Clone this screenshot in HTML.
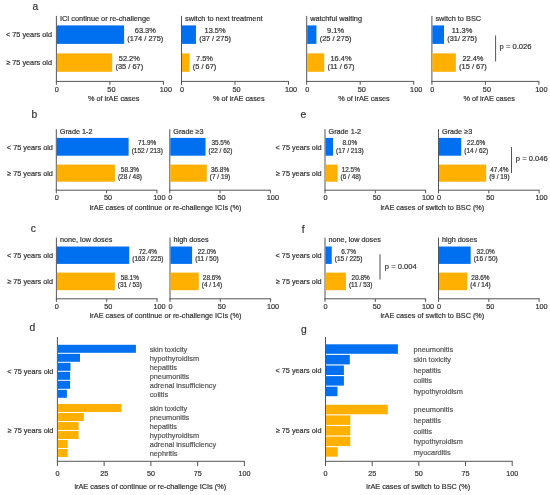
<!DOCTYPE html>
<html><head><meta charset="utf-8"><style>
html,body{margin:0;padding:0;background:#fff;}
svg{display:block;font-family:"Liberation Sans",sans-serif;will-change:transform;filter:blur(0.3px);}

</style></head><body>
<svg width="550" height="495" viewBox="0 0 550 495">
<rect width="550" height="495" fill="#fff"/>
<text x="32.60" y="9.80" font-size="10.3" text-anchor="start" fill="#333333" stroke="#333333" stroke-width="0.2">a</text>
<text x="31.60" y="117.50" font-size="10.3" text-anchor="start" fill="#333333" stroke="#333333" stroke-width="0.2">b</text>
<text x="30.80" y="231.60" font-size="10.3" text-anchor="start" fill="#333333" stroke="#333333" stroke-width="0.2">c</text>
<text x="29.60" y="331.00" font-size="10.3" text-anchor="start" fill="#333333" stroke="#333333" stroke-width="0.2">d</text>
<text x="300.40" y="117.60" font-size="10.3" text-anchor="start" fill="#333333" stroke="#333333" stroke-width="0.2">e</text>
<text x="301.70" y="232.50" font-size="10.3" text-anchor="start" fill="#333333" stroke="#333333" stroke-width="0.2">f</text>
<text x="301.00" y="332.60" font-size="10.3" text-anchor="start" fill="#333333" stroke="#333333" stroke-width="0.2">g</text>
<line x1="56.40" y1="15.90" x2="56.40" y2="81.90" stroke="#555555" stroke-width="1"/>
<line x1="55.90" y1="81.40" x2="163.90" y2="81.40" stroke="#555555" stroke-width="1"/>
<line x1="56.40" y1="81.40" x2="56.40" y2="84.80" stroke="#555555" stroke-width="1"/>
<text x="56.90" y="91.60" font-size="7.3" text-anchor="middle" fill="#333333" stroke="#333333" stroke-width="0.2">0</text>
<line x1="109.90" y1="81.40" x2="109.90" y2="84.80" stroke="#555555" stroke-width="1"/>
<text x="111.40" y="91.60" font-size="7.3" text-anchor="middle" fill="#333333" stroke="#333333" stroke-width="0.2">50</text>
<line x1="163.40" y1="81.40" x2="163.40" y2="84.80" stroke="#555555" stroke-width="1"/>
<text x="165.90" y="91.60" font-size="7.3" text-anchor="middle" fill="#333333" stroke="#333333" stroke-width="0.2">100</text>
<text x="59.90" y="20.50" font-size="7.35" text-anchor="start" fill="#333333" stroke="#333333" stroke-width="0.2">ICI continue or re-challenge</text>
<rect x="56.90" y="25.40" width="67.23" height="18.50" fill="#0070f0"/>
<text x="145.34" y="33.15" font-size="7.45" text-anchor="middle" fill="#333333" stroke="#333333" stroke-width="0.2">63.3%</text>
<text x="145.34" y="41.35" font-size="7.45" text-anchor="middle" fill="#333333" stroke="#333333" stroke-width="0.2">(174 / 275)</text>
<rect x="56.90" y="53.40" width="55.35" height="18.40" fill="#ffb000"/>
<text x="129.32" y="61.10" font-size="7.45" text-anchor="middle" fill="#333333" stroke="#333333" stroke-width="0.2">52.2%</text>
<text x="129.32" y="69.30" font-size="7.45" text-anchor="middle" fill="#333333" stroke="#333333" stroke-width="0.2">(35 / 67)</text>
<text x="113.70" y="101.00" font-size="7.3" text-anchor="middle" fill="#333333" stroke="#333333" stroke-width="0.2">% of irAE cases</text>
<line x1="181.50" y1="15.90" x2="181.50" y2="81.90" stroke="#555555" stroke-width="1"/>
<line x1="181.00" y1="81.40" x2="289.00" y2="81.40" stroke="#555555" stroke-width="1"/>
<line x1="181.50" y1="81.40" x2="181.50" y2="84.80" stroke="#555555" stroke-width="1"/>
<text x="182.00" y="91.60" font-size="7.3" text-anchor="middle" fill="#333333" stroke="#333333" stroke-width="0.2">0</text>
<line x1="235.00" y1="81.40" x2="235.00" y2="84.80" stroke="#555555" stroke-width="1"/>
<text x="236.50" y="91.60" font-size="7.3" text-anchor="middle" fill="#333333" stroke="#333333" stroke-width="0.2">50</text>
<line x1="288.50" y1="81.40" x2="288.50" y2="84.80" stroke="#555555" stroke-width="1"/>
<text x="291.00" y="91.60" font-size="7.3" text-anchor="middle" fill="#333333" stroke="#333333" stroke-width="0.2">100</text>
<text x="185.00" y="20.50" font-size="7.35" text-anchor="start" fill="#333333" stroke="#333333" stroke-width="0.2">switch to next treatment</text>
<rect x="182.00" y="25.40" width="13.95" height="18.50" fill="#0070f0"/>
<text x="215.09" y="33.15" font-size="7.45" text-anchor="middle" fill="#333333" stroke="#333333" stroke-width="0.2">13.5%</text>
<text x="215.09" y="41.35" font-size="7.45" text-anchor="middle" fill="#333333" stroke="#333333" stroke-width="0.2">(37 / 275)</text>
<rect x="182.00" y="53.40" width="7.53" height="18.40" fill="#ffb000"/>
<text x="204.52" y="61.10" font-size="7.45" text-anchor="middle" fill="#333333" stroke="#333333" stroke-width="0.2">7.5%</text>
<text x="204.52" y="69.30" font-size="7.45" text-anchor="middle" fill="#333333" stroke="#333333" stroke-width="0.2">(5 / 67)</text>
<text x="238.80" y="101.00" font-size="7.3" text-anchor="middle" fill="#333333" stroke="#333333" stroke-width="0.2">% of irAE cases</text>
<line x1="306.70" y1="15.90" x2="306.70" y2="81.90" stroke="#555555" stroke-width="1"/>
<line x1="306.20" y1="81.40" x2="414.20" y2="81.40" stroke="#555555" stroke-width="1"/>
<line x1="306.70" y1="81.40" x2="306.70" y2="84.80" stroke="#555555" stroke-width="1"/>
<text x="307.20" y="91.60" font-size="7.3" text-anchor="middle" fill="#333333" stroke="#333333" stroke-width="0.2">0</text>
<line x1="360.20" y1="81.40" x2="360.20" y2="84.80" stroke="#555555" stroke-width="1"/>
<text x="361.70" y="91.60" font-size="7.3" text-anchor="middle" fill="#333333" stroke="#333333" stroke-width="0.2">50</text>
<line x1="413.70" y1="81.40" x2="413.70" y2="84.80" stroke="#555555" stroke-width="1"/>
<text x="416.20" y="91.60" font-size="7.3" text-anchor="middle" fill="#333333" stroke="#333333" stroke-width="0.2">100</text>
<text x="310.20" y="20.50" font-size="7.35" text-anchor="start" fill="#333333" stroke="#333333" stroke-width="0.2">watchful waiting</text>
<rect x="307.20" y="25.40" width="9.24" height="18.50" fill="#0070f0"/>
<text x="335.58" y="33.15" font-size="7.45" text-anchor="middle" fill="#333333" stroke="#333333" stroke-width="0.2">9.1%</text>
<text x="335.58" y="41.35" font-size="7.45" text-anchor="middle" fill="#333333" stroke="#333333" stroke-width="0.2">(25 / 275)</text>
<rect x="307.20" y="53.40" width="17.05" height="18.40" fill="#ffb000"/>
<text x="341.04" y="61.10" font-size="7.45" text-anchor="middle" fill="#333333" stroke="#333333" stroke-width="0.2">16.4%</text>
<text x="341.04" y="69.30" font-size="7.45" text-anchor="middle" fill="#333333" stroke="#333333" stroke-width="0.2">(11 / 67)</text>
<text x="364.00" y="101.00" font-size="7.3" text-anchor="middle" fill="#333333" stroke="#333333" stroke-width="0.2">% of irAE cases</text>
<line x1="431.90" y1="15.90" x2="431.90" y2="81.90" stroke="#555555" stroke-width="1"/>
<line x1="431.40" y1="81.40" x2="539.40" y2="81.40" stroke="#555555" stroke-width="1"/>
<line x1="431.90" y1="81.40" x2="431.90" y2="84.80" stroke="#555555" stroke-width="1"/>
<text x="432.40" y="91.60" font-size="7.3" text-anchor="middle" fill="#333333" stroke="#333333" stroke-width="0.2">0</text>
<line x1="485.40" y1="81.40" x2="485.40" y2="84.80" stroke="#555555" stroke-width="1"/>
<text x="486.90" y="91.60" font-size="7.3" text-anchor="middle" fill="#333333" stroke="#333333" stroke-width="0.2">50</text>
<line x1="538.90" y1="81.40" x2="538.90" y2="84.80" stroke="#555555" stroke-width="1"/>
<text x="541.40" y="91.60" font-size="7.3" text-anchor="middle" fill="#333333" stroke="#333333" stroke-width="0.2">100</text>
<text x="435.40" y="20.50" font-size="7.35" text-anchor="start" fill="#333333" stroke="#333333" stroke-width="0.2">switch to BSC</text>
<rect x="432.40" y="25.40" width="11.59" height="18.50" fill="#0070f0"/>
<text x="462.10" y="33.15" font-size="7.45" text-anchor="middle" fill="#333333" stroke="#333333" stroke-width="0.2">11.3%</text>
<text x="462.10" y="41.35" font-size="7.45" text-anchor="middle" fill="#333333" stroke="#333333" stroke-width="0.2">(31/ 275)</text>
<rect x="432.40" y="53.40" width="23.47" height="18.40" fill="#ffb000"/>
<text x="472.94" y="61.10" font-size="7.45" text-anchor="middle" fill="#333333" stroke="#333333" stroke-width="0.2">22.4%</text>
<text x="472.94" y="69.30" font-size="7.45" text-anchor="middle" fill="#333333" stroke="#333333" stroke-width="0.2">(15 / 67)</text>
<text x="489.20" y="101.00" font-size="7.3" text-anchor="middle" fill="#333333" stroke="#333333" stroke-width="0.2">% of irAE cases</text>
<text x="52.00" y="37.35" font-size="7.3" text-anchor="end" fill="#333333" stroke="#333333" stroke-width="0.2">&lt; 75 years old</text>
<text x="52.00" y="65.30" font-size="7.3" text-anchor="end" fill="#333333" stroke="#333333" stroke-width="0.2">≥ 75 years old</text>
<line x1="495.60" y1="35.40" x2="495.60" y2="61.50" stroke="#555555" stroke-width="1"/>
<text x="499.60" y="49.40" font-size="7.6" text-anchor="start" fill="#333333" stroke="#333333" stroke-width="0.2">p = 0.026</text>
<line x1="56.30" y1="129.20" x2="56.30" y2="190.70" stroke="#555555" stroke-width="1"/>
<line x1="55.80" y1="190.20" x2="157.40" y2="190.20" stroke="#555555" stroke-width="1"/>
<line x1="56.30" y1="190.20" x2="56.30" y2="193.30" stroke="#555555" stroke-width="1"/>
<text x="56.80" y="200.00" font-size="7.3" text-anchor="middle" fill="#333333" stroke="#333333" stroke-width="0.2">0</text>
<line x1="106.60" y1="190.20" x2="106.60" y2="193.30" stroke="#555555" stroke-width="1"/>
<text x="108.10" y="200.00" font-size="7.3" text-anchor="middle" fill="#333333" stroke="#333333" stroke-width="0.2">50</text>
<line x1="156.90" y1="190.20" x2="156.90" y2="193.30" stroke="#555555" stroke-width="1"/>
<text x="159.40" y="200.00" font-size="7.3" text-anchor="middle" fill="#333333" stroke="#333333" stroke-width="0.2">100</text>
<text x="59.80" y="133.80" font-size="7.25" text-anchor="start" fill="#333333" stroke="#333333" stroke-width="0.2">Grade 1-2</text>
<rect x="56.80" y="137.90" width="71.83" height="17.80" fill="#0070f0"/>
<text x="147.23" y="145.40" font-size="6.45" text-anchor="middle" fill="#333333" stroke="#333333" stroke-width="0.2">71.9%</text>
<text x="147.23" y="152.60" font-size="6.45" text-anchor="middle" fill="#333333" stroke="#333333" stroke-width="0.2">(152 / 213)</text>
<rect x="56.80" y="164.60" width="58.15" height="17.10" fill="#ffb000"/>
<text x="129.96" y="171.75" font-size="6.45" text-anchor="middle" fill="#333333" stroke="#333333" stroke-width="0.2">58.3%</text>
<text x="129.96" y="178.95" font-size="6.45" text-anchor="middle" fill="#333333" stroke="#333333" stroke-width="0.2">(28 / 48)</text>
<line x1="169.80" y1="129.20" x2="169.80" y2="190.70" stroke="#555555" stroke-width="1"/>
<line x1="169.30" y1="190.20" x2="270.90" y2="190.20" stroke="#555555" stroke-width="1"/>
<line x1="169.80" y1="190.20" x2="169.80" y2="193.30" stroke="#555555" stroke-width="1"/>
<text x="170.30" y="200.00" font-size="7.3" text-anchor="middle" fill="#333333" stroke="#333333" stroke-width="0.2">0</text>
<line x1="220.10" y1="190.20" x2="220.10" y2="193.30" stroke="#555555" stroke-width="1"/>
<text x="221.60" y="200.00" font-size="7.3" text-anchor="middle" fill="#333333" stroke="#333333" stroke-width="0.2">50</text>
<line x1="270.40" y1="190.20" x2="270.40" y2="193.30" stroke="#555555" stroke-width="1"/>
<text x="272.90" y="200.00" font-size="7.3" text-anchor="middle" fill="#333333" stroke="#333333" stroke-width="0.2">100</text>
<text x="173.30" y="133.80" font-size="7.25" text-anchor="start" fill="#333333" stroke="#333333" stroke-width="0.2">Grade ≥3</text>
<rect x="170.30" y="137.90" width="35.21" height="17.80" fill="#0070f0"/>
<text x="220.52" y="145.40" font-size="6.45" text-anchor="middle" fill="#333333" stroke="#333333" stroke-width="0.2">35.5%</text>
<text x="220.52" y="152.60" font-size="6.45" text-anchor="middle" fill="#333333" stroke="#333333" stroke-width="0.2">(22 / 62)</text>
<rect x="170.30" y="164.60" width="36.52" height="17.10" fill="#ffb000"/>
<text x="220.04" y="171.75" font-size="6.45" text-anchor="middle" fill="#333333" stroke="#333333" stroke-width="0.2">36.8%</text>
<text x="220.04" y="178.95" font-size="6.45" text-anchor="middle" fill="#333333" stroke="#333333" stroke-width="0.2">(7 / 19)</text>
<text x="165.60" y="210.40" font-size="7.3" text-anchor="middle" fill="#333333" stroke="#333333" stroke-width="0.2">irAE cases of continue or re-challenge ICIs (%)</text>
<text x="52.90" y="149.50" font-size="7.3" text-anchor="end" fill="#333333" stroke="#333333" stroke-width="0.2">&lt; 75 years old</text>
<text x="52.90" y="175.85" font-size="7.3" text-anchor="end" fill="#333333" stroke="#333333" stroke-width="0.2">≥ 75 years old</text>
<line x1="325.00" y1="129.20" x2="325.00" y2="190.70" stroke="#555555" stroke-width="1"/>
<line x1="324.50" y1="190.20" x2="426.10" y2="190.20" stroke="#555555" stroke-width="1"/>
<line x1="325.00" y1="190.20" x2="325.00" y2="193.30" stroke="#555555" stroke-width="1"/>
<text x="325.50" y="200.00" font-size="7.3" text-anchor="middle" fill="#333333" stroke="#333333" stroke-width="0.2">0</text>
<line x1="375.30" y1="190.20" x2="375.30" y2="193.30" stroke="#555555" stroke-width="1"/>
<text x="376.80" y="200.00" font-size="7.3" text-anchor="middle" fill="#333333" stroke="#333333" stroke-width="0.2">50</text>
<line x1="425.60" y1="190.20" x2="425.60" y2="193.30" stroke="#555555" stroke-width="1"/>
<text x="428.10" y="200.00" font-size="7.3" text-anchor="middle" fill="#333333" stroke="#333333" stroke-width="0.2">100</text>
<text x="328.50" y="133.80" font-size="7.25" text-anchor="start" fill="#333333" stroke="#333333" stroke-width="0.2">Grade 1-2</text>
<rect x="325.50" y="137.90" width="7.55" height="17.80" fill="#0070f0"/>
<text x="349.85" y="145.40" font-size="6.45" text-anchor="middle" fill="#333333" stroke="#333333" stroke-width="0.2">8.0%</text>
<text x="349.85" y="152.60" font-size="6.45" text-anchor="middle" fill="#333333" stroke="#333333" stroke-width="0.2">(17 / 213)</text>
<rect x="325.50" y="164.60" width="12.07" height="17.10" fill="#ffb000"/>
<text x="350.79" y="171.75" font-size="6.45" text-anchor="middle" fill="#333333" stroke="#333333" stroke-width="0.2">12.5%</text>
<text x="350.79" y="178.95" font-size="6.45" text-anchor="middle" fill="#333333" stroke="#333333" stroke-width="0.2">(6 / 48)</text>
<line x1="438.50" y1="129.20" x2="438.50" y2="190.70" stroke="#555555" stroke-width="1"/>
<line x1="438.00" y1="190.20" x2="539.60" y2="190.20" stroke="#555555" stroke-width="1"/>
<line x1="438.50" y1="190.20" x2="438.50" y2="193.30" stroke="#555555" stroke-width="1"/>
<text x="439.00" y="200.00" font-size="7.3" text-anchor="middle" fill="#333333" stroke="#333333" stroke-width="0.2">0</text>
<line x1="488.80" y1="190.20" x2="488.80" y2="193.30" stroke="#555555" stroke-width="1"/>
<text x="490.30" y="200.00" font-size="7.3" text-anchor="middle" fill="#333333" stroke="#333333" stroke-width="0.2">50</text>
<line x1="539.10" y1="190.20" x2="539.10" y2="193.30" stroke="#555555" stroke-width="1"/>
<text x="541.60" y="200.00" font-size="7.3" text-anchor="middle" fill="#333333" stroke="#333333" stroke-width="0.2">100</text>
<text x="442.00" y="133.80" font-size="7.25" text-anchor="start" fill="#333333" stroke="#333333" stroke-width="0.2">Grade ≥3</text>
<rect x="439.00" y="137.90" width="22.24" height="17.80" fill="#0070f0"/>
<text x="476.24" y="145.40" font-size="6.45" text-anchor="middle" fill="#333333" stroke="#333333" stroke-width="0.2">22.6%</text>
<text x="476.24" y="152.60" font-size="6.45" text-anchor="middle" fill="#333333" stroke="#333333" stroke-width="0.2">(14 / 62)</text>
<rect x="439.00" y="164.60" width="47.18" height="17.10" fill="#ffb000"/>
<text x="499.40" y="171.75" font-size="6.45" text-anchor="middle" fill="#333333" stroke="#333333" stroke-width="0.2">47.4%</text>
<text x="499.40" y="178.95" font-size="6.45" text-anchor="middle" fill="#333333" stroke="#333333" stroke-width="0.2">(9 / 19)</text>
<text x="432.40" y="210.40" font-size="7.3" text-anchor="middle" fill="#333333" stroke="#333333" stroke-width="0.2">irAE cases of switch to BSC (%)</text>
<text x="321.60" y="149.50" font-size="7.3" text-anchor="end" fill="#333333" stroke="#333333" stroke-width="0.2">&lt; 75 years old</text>
<text x="321.60" y="175.85" font-size="7.3" text-anchor="end" fill="#333333" stroke="#333333" stroke-width="0.2">≥ 75 years old</text>
<line x1="511.50" y1="147.00" x2="511.50" y2="173.00" stroke="#555555" stroke-width="1"/>
<text x="515.80" y="161.20" font-size="7.6" text-anchor="start" fill="#333333" stroke="#333333" stroke-width="0.2">p = 0.046</text>
<line x1="56.40" y1="237.60" x2="56.40" y2="299.30" stroke="#555555" stroke-width="1"/>
<line x1="55.90" y1="298.80" x2="157.50" y2="298.80" stroke="#555555" stroke-width="1"/>
<line x1="56.40" y1="298.80" x2="56.40" y2="301.90" stroke="#555555" stroke-width="1"/>
<text x="56.90" y="308.60" font-size="7.3" text-anchor="middle" fill="#333333" stroke="#333333" stroke-width="0.2">0</text>
<line x1="106.70" y1="298.80" x2="106.70" y2="301.90" stroke="#555555" stroke-width="1"/>
<text x="108.20" y="308.60" font-size="7.3" text-anchor="middle" fill="#333333" stroke="#333333" stroke-width="0.2">50</text>
<line x1="157.00" y1="298.80" x2="157.00" y2="301.90" stroke="#555555" stroke-width="1"/>
<text x="159.50" y="308.60" font-size="7.3" text-anchor="middle" fill="#333333" stroke="#333333" stroke-width="0.2">100</text>
<text x="59.90" y="242.20" font-size="7.25" text-anchor="start" fill="#333333" stroke="#333333" stroke-width="0.2">none, low doses</text>
<rect x="56.90" y="246.50" width="72.33" height="17.40" fill="#0070f0"/>
<text x="147.83" y="253.80" font-size="6.45" text-anchor="middle" fill="#333333" stroke="#333333" stroke-width="0.2">72.4%</text>
<text x="147.83" y="261.00" font-size="6.45" text-anchor="middle" fill="#333333" stroke="#333333" stroke-width="0.2">(163 / 225)</text>
<rect x="56.90" y="272.60" width="57.95" height="17.60" fill="#ffb000"/>
<text x="129.86" y="280.00" font-size="6.45" text-anchor="middle" fill="#333333" stroke="#333333" stroke-width="0.2">58.1%</text>
<text x="129.86" y="287.20" font-size="6.45" text-anchor="middle" fill="#333333" stroke="#333333" stroke-width="0.2">(31 / 53)</text>
<line x1="170.00" y1="237.60" x2="170.00" y2="299.30" stroke="#555555" stroke-width="1"/>
<line x1="169.50" y1="298.80" x2="271.10" y2="298.80" stroke="#555555" stroke-width="1"/>
<line x1="170.00" y1="298.80" x2="170.00" y2="301.90" stroke="#555555" stroke-width="1"/>
<text x="170.50" y="308.60" font-size="7.3" text-anchor="middle" fill="#333333" stroke="#333333" stroke-width="0.2">0</text>
<line x1="220.30" y1="298.80" x2="220.30" y2="301.90" stroke="#555555" stroke-width="1"/>
<text x="221.80" y="308.60" font-size="7.3" text-anchor="middle" fill="#333333" stroke="#333333" stroke-width="0.2">50</text>
<line x1="270.60" y1="298.80" x2="270.60" y2="301.90" stroke="#555555" stroke-width="1"/>
<text x="273.10" y="308.60" font-size="7.3" text-anchor="middle" fill="#333333" stroke="#333333" stroke-width="0.2">100</text>
<text x="173.50" y="242.20" font-size="7.25" text-anchor="start" fill="#333333" stroke="#333333" stroke-width="0.2">high doses</text>
<rect x="170.50" y="246.50" width="21.63" height="17.40" fill="#0070f0"/>
<text x="206.90" y="253.80" font-size="6.45" text-anchor="middle" fill="#333333" stroke="#333333" stroke-width="0.2">22.0%</text>
<text x="206.90" y="261.00" font-size="6.45" text-anchor="middle" fill="#333333" stroke="#333333" stroke-width="0.2">(11 / 50)</text>
<rect x="170.50" y="272.60" width="28.27" height="17.60" fill="#ffb000"/>
<text x="211.99" y="280.00" font-size="6.45" text-anchor="middle" fill="#333333" stroke="#333333" stroke-width="0.2">28.6%</text>
<text x="211.99" y="287.20" font-size="6.45" text-anchor="middle" fill="#333333" stroke="#333333" stroke-width="0.2">(4 / 14)</text>
<text x="165.60" y="318.30" font-size="7.3" text-anchor="middle" fill="#333333" stroke="#333333" stroke-width="0.2">irAE cases of continue or re-challenge ICIs (%)</text>
<text x="53.00" y="257.90" font-size="7.3" text-anchor="end" fill="#333333" stroke="#333333" stroke-width="0.2">&lt; 75 years old</text>
<text x="53.00" y="284.10" font-size="7.3" text-anchor="end" fill="#333333" stroke="#333333" stroke-width="0.2">≥ 75 years old</text>
<line x1="325.00" y1="237.60" x2="325.00" y2="299.30" stroke="#555555" stroke-width="1"/>
<line x1="324.50" y1="298.80" x2="426.10" y2="298.80" stroke="#555555" stroke-width="1"/>
<line x1="325.00" y1="298.80" x2="325.00" y2="301.90" stroke="#555555" stroke-width="1"/>
<text x="325.50" y="308.60" font-size="7.3" text-anchor="middle" fill="#333333" stroke="#333333" stroke-width="0.2">0</text>
<line x1="375.30" y1="298.80" x2="375.30" y2="301.90" stroke="#555555" stroke-width="1"/>
<text x="376.80" y="308.60" font-size="7.3" text-anchor="middle" fill="#333333" stroke="#333333" stroke-width="0.2">50</text>
<line x1="425.60" y1="298.80" x2="425.60" y2="301.90" stroke="#555555" stroke-width="1"/>
<text x="428.10" y="308.60" font-size="7.3" text-anchor="middle" fill="#333333" stroke="#333333" stroke-width="0.2">100</text>
<text x="328.50" y="242.20" font-size="7.25" text-anchor="start" fill="#333333" stroke="#333333" stroke-width="0.2">none, low doses</text>
<rect x="325.50" y="246.50" width="6.24" height="17.40" fill="#0070f0"/>
<text x="348.54" y="253.80" font-size="6.45" text-anchor="middle" fill="#333333" stroke="#333333" stroke-width="0.2">6.7%</text>
<text x="348.54" y="261.00" font-size="6.45" text-anchor="middle" fill="#333333" stroke="#333333" stroke-width="0.2">(15 / 225)</text>
<rect x="325.50" y="272.60" width="20.42" height="17.60" fill="#ffb000"/>
<text x="360.69" y="280.00" font-size="6.45" text-anchor="middle" fill="#333333" stroke="#333333" stroke-width="0.2">20.8%</text>
<text x="360.69" y="287.20" font-size="6.45" text-anchor="middle" fill="#333333" stroke="#333333" stroke-width="0.2">(11 / 53)</text>
<line x1="438.50" y1="237.60" x2="438.50" y2="299.30" stroke="#555555" stroke-width="1"/>
<line x1="438.00" y1="298.80" x2="539.60" y2="298.80" stroke="#555555" stroke-width="1"/>
<line x1="438.50" y1="298.80" x2="438.50" y2="301.90" stroke="#555555" stroke-width="1"/>
<text x="439.00" y="308.60" font-size="7.3" text-anchor="middle" fill="#333333" stroke="#333333" stroke-width="0.2">0</text>
<line x1="488.80" y1="298.80" x2="488.80" y2="301.90" stroke="#555555" stroke-width="1"/>
<text x="490.30" y="308.60" font-size="7.3" text-anchor="middle" fill="#333333" stroke="#333333" stroke-width="0.2">50</text>
<line x1="539.10" y1="298.80" x2="539.10" y2="301.90" stroke="#555555" stroke-width="1"/>
<text x="541.60" y="308.60" font-size="7.3" text-anchor="middle" fill="#333333" stroke="#333333" stroke-width="0.2">100</text>
<text x="442.00" y="242.20" font-size="7.25" text-anchor="start" fill="#333333" stroke="#333333" stroke-width="0.2">high doses</text>
<rect x="439.00" y="246.50" width="31.69" height="17.40" fill="#0070f0"/>
<text x="485.70" y="253.80" font-size="6.45" text-anchor="middle" fill="#333333" stroke="#333333" stroke-width="0.2">32.0%</text>
<text x="485.70" y="261.00" font-size="6.45" text-anchor="middle" fill="#333333" stroke="#333333" stroke-width="0.2">(16 / 50)</text>
<rect x="439.00" y="272.60" width="28.27" height="17.60" fill="#ffb000"/>
<text x="480.49" y="280.00" font-size="6.45" text-anchor="middle" fill="#333333" stroke="#333333" stroke-width="0.2">28.6%</text>
<text x="480.49" y="287.20" font-size="6.45" text-anchor="middle" fill="#333333" stroke="#333333" stroke-width="0.2">(4 / 14)</text>
<text x="432.40" y="318.30" font-size="7.3" text-anchor="middle" fill="#333333" stroke="#333333" stroke-width="0.2">irAE cases of switch to BSC (%)</text>
<text x="321.60" y="257.90" font-size="7.3" text-anchor="end" fill="#333333" stroke="#333333" stroke-width="0.2">&lt; 75 years old</text>
<text x="321.60" y="284.10" font-size="7.3" text-anchor="end" fill="#333333" stroke="#333333" stroke-width="0.2">≥ 75 years old</text>
<line x1="380.00" y1="254.20" x2="380.00" y2="279.50" stroke="#777" stroke-width="1.3"/>
<text x="384.80" y="268.60" font-size="7.6" text-anchor="start" fill="#333333" stroke="#333333" stroke-width="0.2">p = 0.004</text>
<line x1="57.40" y1="337.00" x2="57.40" y2="461.80" stroke="#555555" stroke-width="1"/>
<line x1="56.90" y1="461.30" x2="244.90" y2="461.30" stroke="#555555" stroke-width="1"/>
<line x1="57.40" y1="461.30" x2="57.40" y2="466.10" stroke="#555555" stroke-width="1"/>
<text x="57.40" y="476.00" font-size="7.2" text-anchor="middle" fill="#333333" stroke="#333333" stroke-width="0.2">0</text>
<line x1="104.15" y1="461.30" x2="104.15" y2="466.10" stroke="#555555" stroke-width="1"/>
<text x="104.15" y="476.00" font-size="7.2" text-anchor="middle" fill="#333333" stroke="#333333" stroke-width="0.2">25</text>
<line x1="150.90" y1="461.30" x2="150.90" y2="466.10" stroke="#555555" stroke-width="1"/>
<text x="150.90" y="476.00" font-size="7.2" text-anchor="middle" fill="#333333" stroke="#333333" stroke-width="0.2">50</text>
<line x1="197.65" y1="461.30" x2="197.65" y2="466.10" stroke="#555555" stroke-width="1"/>
<text x="197.65" y="476.00" font-size="7.2" text-anchor="middle" fill="#333333" stroke="#333333" stroke-width="0.2">75</text>
<line x1="244.40" y1="461.30" x2="244.40" y2="466.10" stroke="#555555" stroke-width="1"/>
<text x="244.40" y="476.00" font-size="7.2" text-anchor="middle" fill="#333333" stroke="#333333" stroke-width="0.2">100</text>
<rect x="57.90" y="344.80" width="78.00" height="8.00" fill="#0070f0"/>
<text x="149.70" y="352.40" font-size="7.35" text-anchor="start" fill="#555555" stroke="#555555" stroke-width="0.2">skin toxicity</text>
<rect x="57.90" y="353.80" width="22.10" height="8.00" fill="#0070f0"/>
<text x="149.70" y="361.40" font-size="7.35" text-anchor="start" fill="#555555" stroke="#555555" stroke-width="0.2">hypothyroidism</text>
<rect x="57.90" y="362.80" width="12.60" height="8.00" fill="#0070f0"/>
<text x="149.70" y="370.40" font-size="7.35" text-anchor="start" fill="#555555" stroke="#555555" stroke-width="0.2">hepatitis</text>
<rect x="57.90" y="371.80" width="12.20" height="8.00" fill="#0070f0"/>
<text x="149.70" y="379.40" font-size="7.35" text-anchor="start" fill="#555555" stroke="#555555" stroke-width="0.2">pneumonitis</text>
<rect x="57.90" y="380.80" width="12.20" height="8.00" fill="#0070f0"/>
<text x="149.70" y="388.40" font-size="7.35" text-anchor="start" fill="#555555" stroke="#555555" stroke-width="0.2">adrenal insufficiency</text>
<rect x="57.90" y="389.80" width="9.00" height="8.00" fill="#0070f0"/>
<text x="149.70" y="397.40" font-size="7.35" text-anchor="start" fill="#555555" stroke="#555555" stroke-width="0.2">colitis</text>
<rect x="57.90" y="404.00" width="63.60" height="8.00" fill="#ffb000"/>
<text x="149.70" y="410.90" font-size="7.35" text-anchor="start" fill="#555555" stroke="#555555" stroke-width="0.2">skin toxicity</text>
<rect x="57.90" y="413.00" width="26.00" height="8.00" fill="#ffb000"/>
<text x="149.70" y="419.90" font-size="7.35" text-anchor="start" fill="#555555" stroke="#555555" stroke-width="0.2">pneumonitis</text>
<rect x="57.90" y="422.00" width="20.70" height="8.00" fill="#ffb000"/>
<text x="149.70" y="428.90" font-size="7.35" text-anchor="start" fill="#555555" stroke="#555555" stroke-width="0.2">hepatitis</text>
<rect x="57.90" y="431.00" width="20.70" height="8.00" fill="#ffb000"/>
<text x="149.70" y="437.90" font-size="7.35" text-anchor="start" fill="#555555" stroke="#555555" stroke-width="0.2">hypothyroidism</text>
<rect x="57.90" y="440.00" width="9.80" height="8.00" fill="#ffb000"/>
<text x="149.70" y="446.90" font-size="7.35" text-anchor="start" fill="#555555" stroke="#555555" stroke-width="0.2">adrenal insufficiency</text>
<rect x="57.90" y="449.00" width="9.80" height="8.00" fill="#ffb000"/>
<text x="149.70" y="455.90" font-size="7.35" text-anchor="start" fill="#555555" stroke="#555555" stroke-width="0.2">nephritis</text>
<text x="53.40" y="374.00" font-size="7.3" text-anchor="end" fill="#333333" stroke="#333333" stroke-width="0.2">&lt; 75 years old</text>
<text x="53.40" y="433.20" font-size="7.3" text-anchor="end" fill="#333333" stroke="#333333" stroke-width="0.2">≥ 75 years old</text>
<text x="150.30" y="488.80" font-size="7.3" text-anchor="middle" fill="#333333" stroke="#333333" stroke-width="0.2">irAE cases of continue or re-challenge ICIs (%)</text>
<line x1="325.50" y1="337.00" x2="325.50" y2="461.80" stroke="#555555" stroke-width="1"/>
<line x1="325.00" y1="461.30" x2="512.70" y2="461.30" stroke="#555555" stroke-width="1"/>
<line x1="325.50" y1="461.30" x2="325.50" y2="466.10" stroke="#555555" stroke-width="1"/>
<text x="325.50" y="476.00" font-size="7.2" text-anchor="middle" fill="#333333" stroke="#333333" stroke-width="0.2">0</text>
<line x1="372.18" y1="461.30" x2="372.18" y2="466.10" stroke="#555555" stroke-width="1"/>
<text x="372.18" y="476.00" font-size="7.2" text-anchor="middle" fill="#333333" stroke="#333333" stroke-width="0.2">25</text>
<line x1="418.85" y1="461.30" x2="418.85" y2="466.10" stroke="#555555" stroke-width="1"/>
<text x="418.85" y="476.00" font-size="7.2" text-anchor="middle" fill="#333333" stroke="#333333" stroke-width="0.2">50</text>
<line x1="465.52" y1="461.30" x2="465.52" y2="466.10" stroke="#555555" stroke-width="1"/>
<text x="465.52" y="476.00" font-size="7.2" text-anchor="middle" fill="#333333" stroke="#333333" stroke-width="0.2">75</text>
<line x1="512.20" y1="461.30" x2="512.20" y2="466.10" stroke="#555555" stroke-width="1"/>
<text x="512.20" y="476.00" font-size="7.2" text-anchor="middle" fill="#333333" stroke="#333333" stroke-width="0.2">100</text>
<rect x="326.00" y="344.30" width="71.90" height="9.50" fill="#0070f0"/>
<text x="413.50" y="351.65" font-size="7.35" text-anchor="start" fill="#555555" stroke="#555555" stroke-width="0.2">pneumonitis</text>
<rect x="326.00" y="354.90" width="23.80" height="9.50" fill="#0070f0"/>
<text x="413.50" y="362.25" font-size="7.35" text-anchor="start" fill="#555555" stroke="#555555" stroke-width="0.2">skin toxicity</text>
<rect x="326.00" y="365.50" width="17.90" height="9.50" fill="#0070f0"/>
<text x="413.50" y="372.85" font-size="7.35" text-anchor="start" fill="#555555" stroke="#555555" stroke-width="0.2">hepatitis</text>
<rect x="326.00" y="376.10" width="17.90" height="9.50" fill="#0070f0"/>
<text x="413.50" y="383.45" font-size="7.35" text-anchor="start" fill="#555555" stroke="#555555" stroke-width="0.2">colitis</text>
<rect x="326.00" y="386.70" width="11.50" height="9.50" fill="#0070f0"/>
<text x="413.50" y="394.05" font-size="7.35" text-anchor="start" fill="#555555" stroke="#555555" stroke-width="0.2">hypothyroidism</text>
<rect x="326.00" y="404.80" width="61.80" height="9.50" fill="#ffb000"/>
<text x="413.50" y="412.45" font-size="7.35" text-anchor="start" fill="#555555" stroke="#555555" stroke-width="0.2">pneumonitis</text>
<rect x="326.00" y="415.40" width="24.30" height="9.50" fill="#ffb000"/>
<text x="413.50" y="423.05" font-size="7.35" text-anchor="start" fill="#555555" stroke="#555555" stroke-width="0.2">hepatitis</text>
<rect x="326.00" y="426.00" width="24.30" height="9.50" fill="#ffb000"/>
<text x="413.50" y="433.65" font-size="7.35" text-anchor="start" fill="#555555" stroke="#555555" stroke-width="0.2">colitis</text>
<rect x="326.00" y="436.60" width="24.30" height="9.50" fill="#ffb000"/>
<text x="413.50" y="444.25" font-size="7.35" text-anchor="start" fill="#555555" stroke="#555555" stroke-width="0.2">hypothyroidism</text>
<rect x="326.00" y="447.20" width="11.70" height="9.50" fill="#ffb000"/>
<text x="413.50" y="454.85" font-size="7.35" text-anchor="start" fill="#555555" stroke="#555555" stroke-width="0.2">myocarditis</text>
<text x="321.50" y="372.95" font-size="7.3" text-anchor="end" fill="#333333" stroke="#333333" stroke-width="0.2">&lt; 75 years old</text>
<text x="321.50" y="433.45" font-size="7.3" text-anchor="end" fill="#333333" stroke="#333333" stroke-width="0.2">≥ 75 years old</text>
<text x="418.25" y="488.80" font-size="7.3" text-anchor="middle" fill="#333333" stroke="#333333" stroke-width="0.2">irAE cases of switch to BSC (%)</text>
</svg>
</body></html>
